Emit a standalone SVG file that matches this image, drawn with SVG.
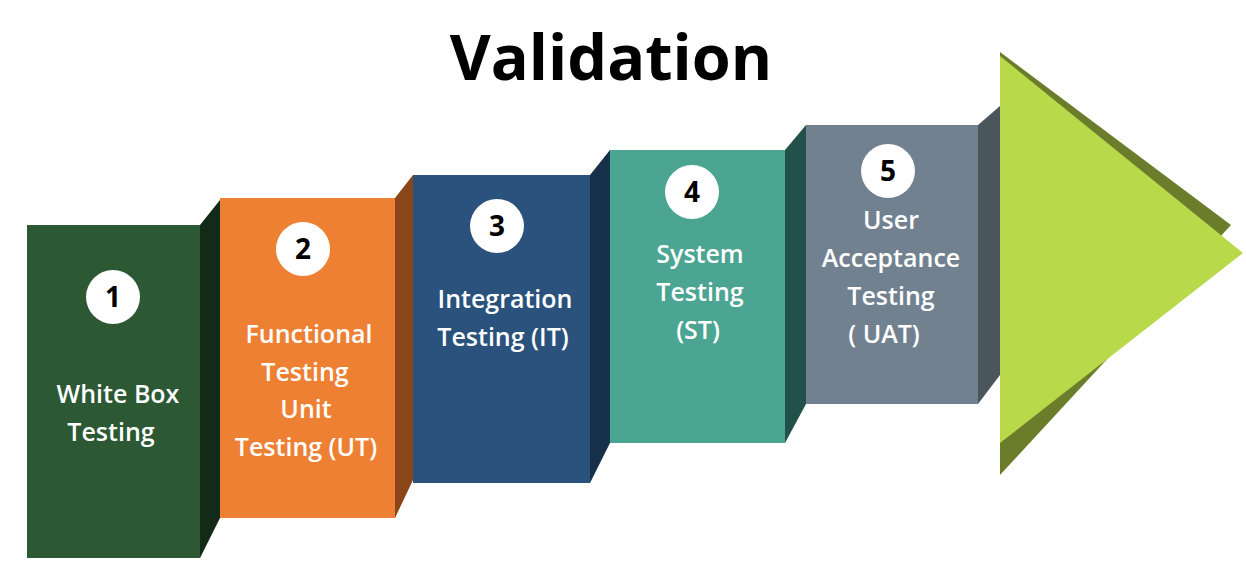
<svg xmlns="http://www.w3.org/2000/svg" width="1246" height="584" viewBox="0 0 1246 584">
<style>
.t{font-family:"Open Sans","Liberation Sans",sans-serif;font-weight:600;font-size:25px;fill:#fff;text-anchor:middle}
.n{font-family:"Open Sans","Liberation Sans",sans-serif;font-weight:700;font-size:28px;fill:#000;text-anchor:middle}
.c{fill:#fff}
</style>
<rect width="1246" height="584" fill="#fff"/>
<text x="611" y="80" font-family="'Open Sans','Liberation Sans',sans-serif" font-weight="700" font-size="63" text-anchor="middle" fill="#000">Validation</text>
<g id="arrow">
<polygon points="1000,52 1231,225 1000,475" fill="#6b7d2b"/>
<polygon points="1000,56 1243,253 1000,443" fill="#b8d94a"/>
</g>
<g id="node5">
<polygon points="978,125 1000,106 1000,375 978,404" fill="#4b555c"/>
<rect x="806" y="125" width="172" height="279" fill="#728190"/>
<circle class="c" cx="888" cy="171" r="27"/><text class="n" x="888" y="181">5</text>
<text class="t" x="891" y="229">User</text><text class="t" x="891" y="267">Acceptance</text><text class="t" x="891" y="305">Testing</text><text class="t" x="884" y="343">( UAT)</text>
</g>
<g id="node4">
<polygon points="785,150 806,125 806,404 785,443" fill="#21514a"/>
<rect x="610" y="150" width="175" height="293" fill="#4ba592"/>
<circle class="c" cx="692" cy="192" r="27"/><text class="n" x="692" y="202">4</text>
<text class="t" x="700" y="263">System</text><text class="t" x="700" y="301">Testing</text><text class="t" x="698" y="339">(ST)</text>
</g>
<g id="node3">
<polygon points="590,175 610,150 610,443 590,483" fill="#16304a"/>
<rect x="413" y="175" width="177" height="308" fill="#2a527c"/>
<circle class="c" cx="497" cy="226" r="27"/><text class="n" x="497" y="236">3</text>
<text class="t" x="505" y="308">Integration</text><text class="t" x="503" y="346">Testing (IT)</text>
</g>
<g id="node2">
<polygon points="395,198 413,175 413,480 395,518" fill="#8a4618"/>
<rect x="220" y="198" width="175" height="320" fill="#ee8033"/>
<circle class="c" cx="303" cy="249" r="27"/><text class="n" x="303" y="259">2</text>
<text class="t" x="309" y="343">Functional</text><text class="t" x="305" y="381">Testing</text><text class="t" x="306" y="418">Unit</text><text class="t" x="306" y="456">Testing (UT)</text>
</g>
<g id="node1">
<polygon points="200,225 220,200 220,518 200,558" fill="#132a18"/>
<rect x="27" y="225" width="173" height="333" fill="#2c5834"/>
<circle class="c" cx="113" cy="297" r="27"/><text class="n" x="113" y="307">1</text>
<text class="t" x="118" y="403">White Box</text><text class="t" x="111" y="441">Testing</text>
</g>
<g id="connectors"/>
</svg>
